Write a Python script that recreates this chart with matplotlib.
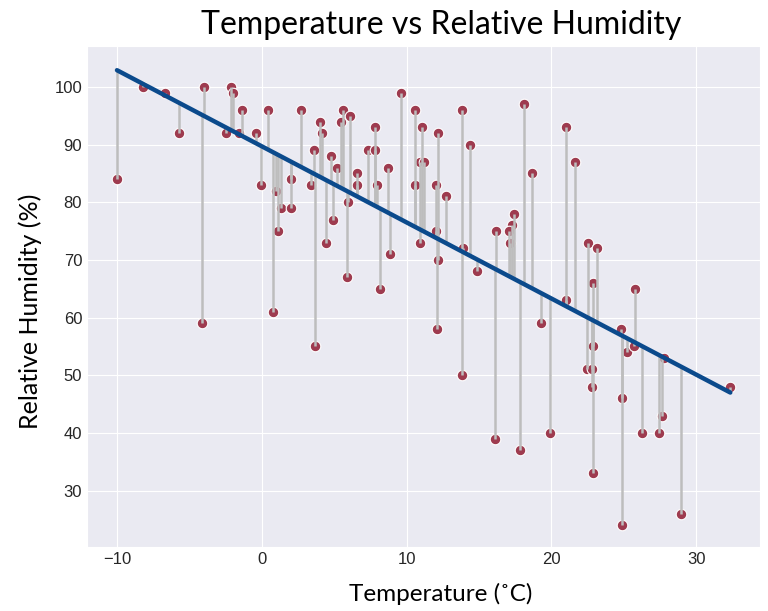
import numpy as np
import matplotlib
matplotlib.use('Agg')
import matplotlib.pyplot as plt
import seaborn as sns

# temperatura (°C) y humedad relativa (%)
temperatura = [
    -10.0, -8.2, -6.7, -5.7, -4.1, -4.0, -2.5, -2.1, -2.0, -1.6,
    -1.35, -0.4, -0.05, 0.4, 0.8, 1.0, 1.1, 1.3, 2.0, 2.0,
    2.7, 3.4, 3.6, 3.65, 4.05, 4.15, 4.45, 4.8, 4.95, 5.2,
    5.5, 5.6, 6.1, 5.85, 5.95, 6.6, 6.6, 7.3, 7.8, 7.85,
    7.95, 8.15, 8.7, 8.85, 9.6, 10.6, 10.6, 11.05, 10.9, 11.2,
    10.9, 12.05, 12.15, 12.05, 12.2, 12.1, 12.7, 13.85, 13.9, 13.8,
    14.4, 14.85, 16.2, 16.1, 17.4, 17.3, 17.1, 17.15, 17.8, 18.1,
    18.65, 19.25, 19.9, 21.0, 21.0, 21.6, 22.5, 23.15, 22.85, 22.9,
    22.45, 22.8, 22.8, 22.85, 24.8, 24.9, 24.85, 25.2, 25.7, 25.8,
    26.25, 27.75, 27.65, 27.45, 28.95, 32.35,
]
humedad = [
    84, 100, 99, 92, 59, 100, 92, 100, 99, 92,
    96, 92, 83, 96, 61, 82, 75, 79, 79, 84,
    96, 83, 89, 55, 94, 92, 73, 88, 77, 86,
    94, 96, 95, 67, 80, 85, 83, 89, 89, 93,
    83, 65, 86, 71, 99, 96, 83, 93, 87, 87,
    73, 83, 92, 75, 70, 58, 81, 96, 72, 50,
    90, 68, 75, 39, 78, 76, 75, 73, 37, 97,
    85, 59, 40, 93, 63, 87, 73, 72, 66, 55,
    51, 51, 48, 33, 58, 46, 24, 54, 55, 65,
    40, 53, 43, 40, 26, 48,
]

x = np.array(temperatura)
y = np.array(humedad)
pendiente, intercepto = np.polyfit(x, y, 1)
y_ajuste = pendiente * x + intercepto

sns.set_style('darkgrid')
plt.rcParams['font.family'] = ['Liberation Sans', 'DejaVu Sans']

fig = plt.figure(figsize=(7.68, 6.11), dpi=100)
ax = fig.add_axes([87 / 768, 1 - 547 / 611, (760 - 87) / 768, (547 - 46) / 611])

ax.scatter(x, y, s=58, color='#9e3b4f', edgecolor='white', linewidth=0.8, zorder=2)
ax.vlines(x, y, y_ajuste, color='#bdbdbd', linewidth=1.8, zorder=3)
x_linea = np.array([x.min(), x.max()])
ax.plot(x_linea, pendiente * x_linea + intercepto, color='#0b4a8c', linewidth=3.2, zorder=4)

ax.set_xlim(-12.07, 34.4)
ax.set_ylim(20.2, 107.1)
ax.set_xticks([-10, 0, 10, 20, 30])
ax.set_yticks(range(30, 101, 10))
ax.tick_params(labelsize=12, colors='#262626', length=0)

fuente = 'Lato'
ax.text(0.527, 1.024, 'Temperature vs Relative Humidity', transform=ax.transAxes,
        ha='center', va='baseline', fontsize=23, family=fuente, color='black')
ax.set_xlabel('Temperature (˚C)', fontsize=17.5, family=fuente, color='black')
ax.set_ylabel('Relative Humidity (%)', fontsize=18, family=fuente, color='black')
ax.xaxis.set_label_coords(0.525, -0.072)
ax.yaxis.set_label_coords(-0.067, 0.47)

fig.savefig('out.png', dpi=100)
